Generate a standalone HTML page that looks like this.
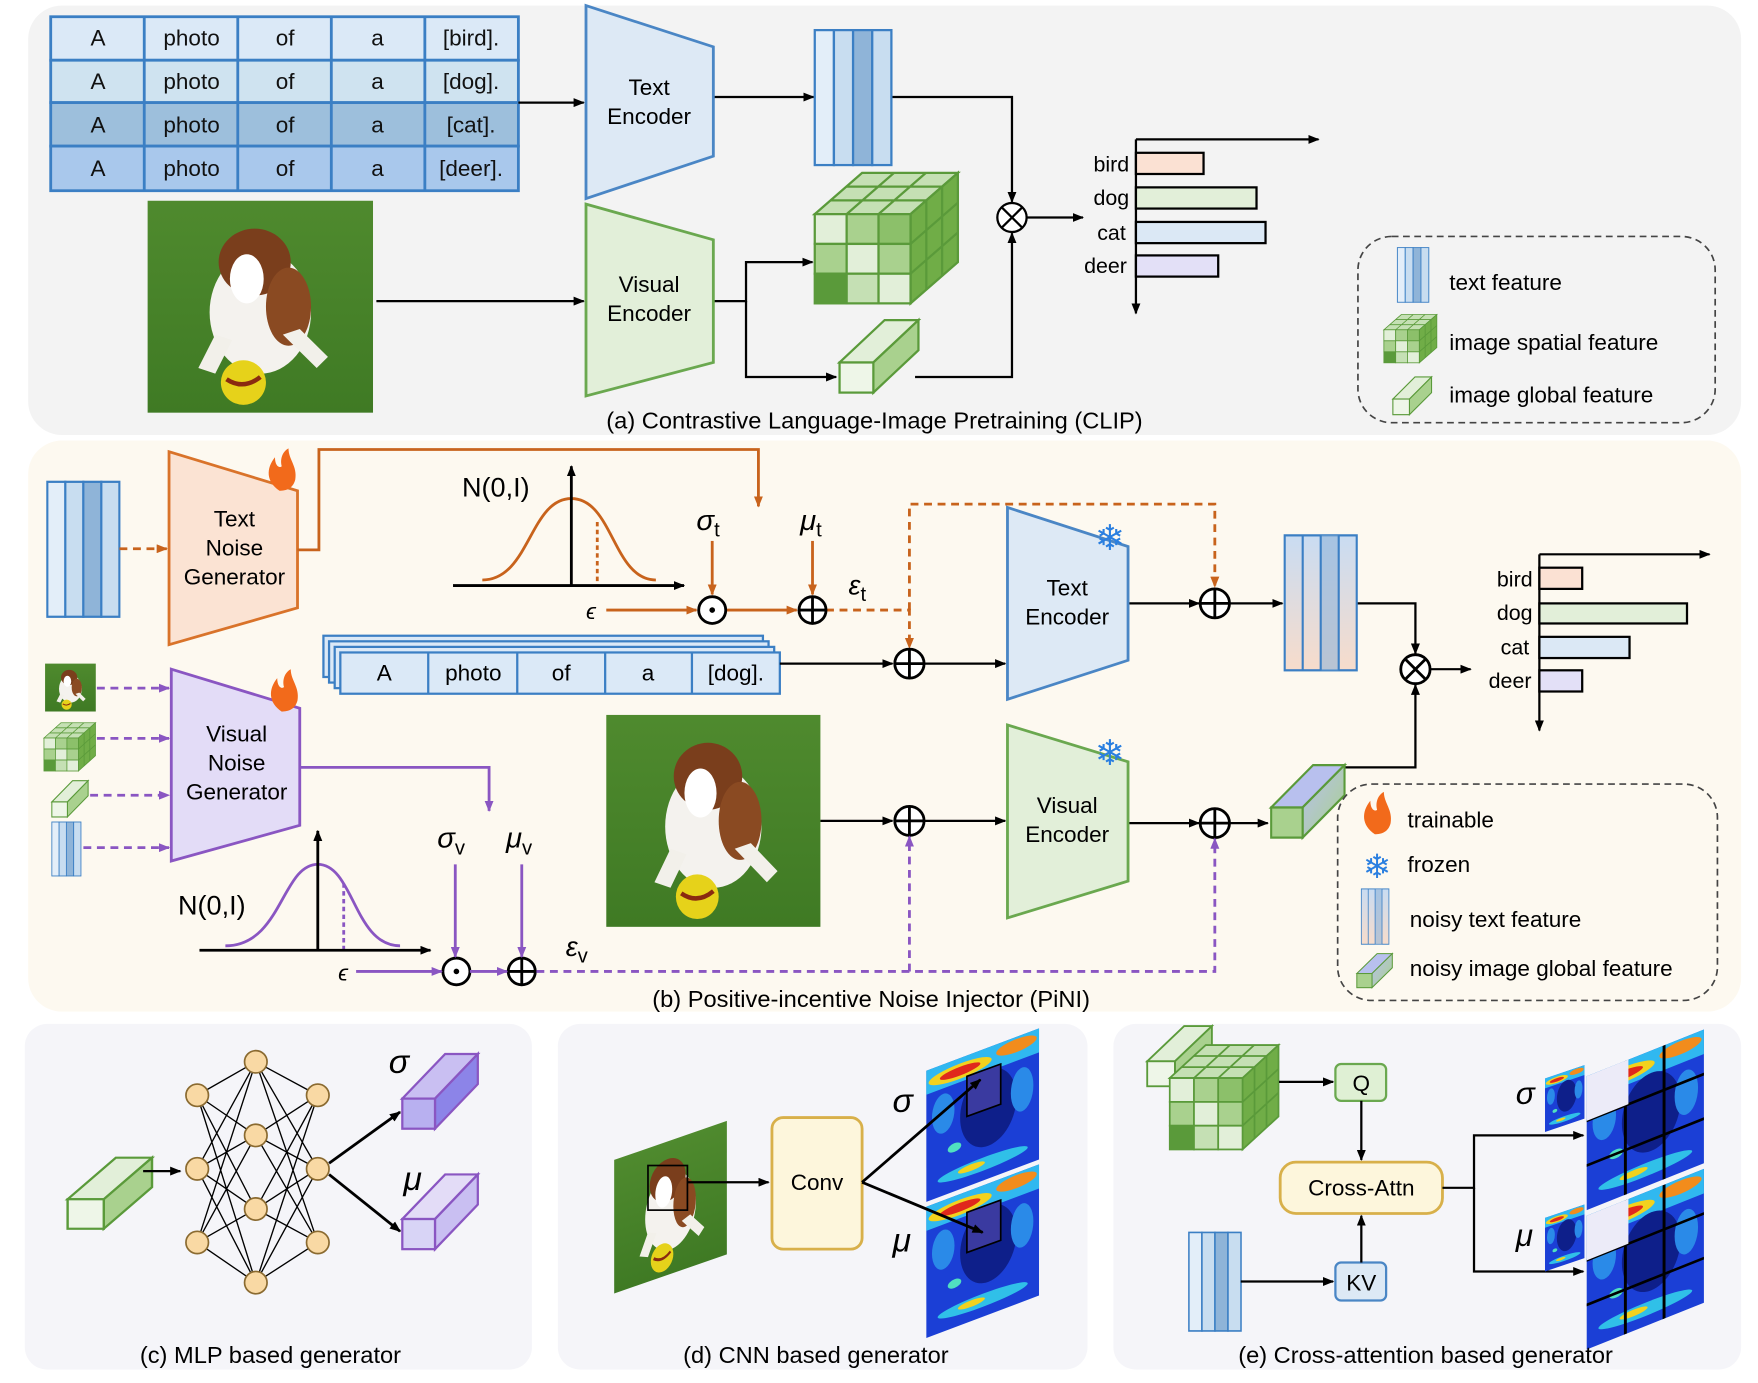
<!DOCTYPE html>
<html><head><meta charset="utf-8"><style>
html,body{margin:0;padding:0;background:#fff}
svg{display:block}
text{font-family:"Liberation Sans",sans-serif}
</style></head><body>
<svg width="1758" height="1383" viewBox="0 0 1560 1240" preserveAspectRatio="none" xmlns="http://www.w3.org/2000/svg">
<defs>
<marker id="ak" markerWidth="10" markerHeight="8" refX="9" refY="4" orient="auto" markerUnits="userSpaceOnUse"><path d="M0,0 L10,4 L0,8 z" fill="#000"/></marker>
<marker id="ao" markerWidth="10" markerHeight="8" refX="9" refY="4" orient="auto" markerUnits="userSpaceOnUse"><path d="M0,0 L10,4 L0,8 z" fill="#c8631c"/></marker>
<marker id="ap" markerWidth="10" markerHeight="8" refX="9" refY="4" orient="auto" markerUnits="userSpaceOnUse"><path d="M0,0 L10,4 L0,8 z" fill="#8a56c2"/></marker>
<linearGradient id="grass" x1="0" y1="0" x2="0" y2="1"><stop offset="0" stop-color="#4f8a2e"/><stop offset="1" stop-color="#3f7a24"/></linearGradient>
<linearGradient id="ntf" x1="0" y1="0" x2="0" y2="1"><stop offset="0" stop-color="#c9dcf2"/><stop offset="1" stop-color="#f7dccb"/></linearGradient>
<linearGradient id="ngf" x1="0" y1="0" x2="1" y2="1"><stop offset="0" stop-color="#b8c0ee"/><stop offset="1" stop-color="#a9d18e"/></linearGradient>
<g id="dog">
<rect x="0" y="0" width="200" height="190" fill="url(#grass)"/>
<ellipse cx="100" cy="100" rx="45" ry="55" fill="#f4f2ee"/>
<ellipse cx="95" cy="55" rx="32" ry="30" fill="#7a3e1c"/>
<ellipse cx="88" cy="70" rx="15" ry="22" fill="#fff"/>
<ellipse cx="125" cy="95" rx="20" ry="35" fill="#8a4a22"/>
<path d="M60 120 L45 150 L60 155 L75 125 Z M120 120 L150 150 L160 140 L135 115Z" fill="#f2f0ea"/>
<circle cx="85" cy="163" r="20" fill="#e6d21a"/>
<path d="M70 160 Q85 170 100 158" stroke="#8a2a10" stroke-width="4" fill="none"/>
</g>
<g id="tf">
<rect x="0" y="0" width="17" height="121" fill="#e3eef9" stroke="#3b7fc4" stroke-width="2"/>
<rect x="17" y="0" width="17" height="121" fill="#c8ddf0" stroke="#3b7fc4" stroke-width="2"/>
<rect x="34" y="0" width="17" height="121" fill="#8fb4d8" stroke="#3b7fc4" stroke-width="2"/>
<rect x="51" y="0" width="17" height="121" fill="#c8ddf0" stroke="#3b7fc4" stroke-width="2"/>
</g>
<g id="ntfg">
<rect x="0" y="0" width="68" height="121" fill="url(#ntf)" stroke="#3b7fc4" stroke-width="2"/>
<rect x="34" y="0" width="17" height="121" fill="#8fb4d8" opacity="0.6"/>
<path d="M17 0V121M34 0V121M51 0V121" stroke="#3b7fc4" stroke-width="2"/>
</g>
<g id="cube" stroke="#5a9a3a" stroke-width="2">
<polygon points="0,37 42,0 127,0 85,37" fill="#c5e0b4"/>
<polygon points="85,37 127,0 127,80 85,117" fill="#70ad47"/>
<rect x="0" y="37" width="28.3" height="26.7" fill="#e2efd9"/><rect x="28.3" y="37" width="28.3" height="26.7" fill="#a9d18e"/><rect x="56.6" y="37" width="28.4" height="26.7" fill="#8cc06a"/>
<rect x="0" y="63.7" width="28.3" height="26.7" fill="#a9d18e"/><rect x="28.3" y="63.7" width="28.3" height="26.7" fill="#e2efd9"/><rect x="56.6" y="63.7" width="28.4" height="26.7" fill="#a9d18e"/>
<rect x="0" y="90.4" width="28.3" height="26.6" fill="#5a9a3a"/><rect x="28.3" y="90.4" width="28.3" height="26.6" fill="#c5e0b4"/><rect x="56.6" y="90.4" width="28.4" height="26.6" fill="#e2efd9"/>
<path d="M14 24.7H99M28 12.3H113M28.3 37L70.3 0M56.6 37L98.6 0M99 24.7V104.7M113 12.3V92.3M85 63.7L127 26.7M85 90.4L127 53.4" fill="none"/>
</g>
<g id="gcube" stroke="#5a9a3a" stroke-width="2">
<polygon points="0,38 40,0 70,0 30,38" fill="#e2efd9"/>
<polygon points="30,38 70,0 70,27 30,65" fill="#a9d18e"/>
<rect x="0" y="38" width="30" height="27" fill="#eef6e8"/>
</g>
<g id="ncube" stroke="#5a9a3a" stroke-width="2">
<polygon points="0,38 40,0 70,0 30,38" fill="#b8c0ee"/>
<polygon points="30,38 70,0 70,27 30,65" fill="url(#ngf)"/>
<rect x="0" y="38" width="30" height="27" fill="#a9d18e"/>
</g>
<g id="pcube" stroke="#8a56c2" stroke-width="2">
<polygon points="0,40 38,0 67,0 29,40" fill="#c9bff2"/>
<polygon points="29,40 67,0 67,27 29,67" fill="#8c84e8"/>
<rect x="0" y="40" width="29" height="27" fill="#b8b0f0"/>
</g>
<g id="pcube2" stroke="#8a56c2" stroke-width="2">
<polygon points="0,40 38,0 67,0 29,40" fill="#e3dcf7"/>
<polygon points="29,40 67,0 67,27 29,67" fill="#c9bff2"/>
<rect x="0" y="40" width="29" height="27" fill="#d8d4f6"/>
</g>
<g id="heat">
<rect x="0" y="0" width="100" height="120" fill="#1b3fd6"/>
<rect x="0" y="0" width="100" height="22" fill="#30b8f0"/>
<ellipse cx="30" cy="12" rx="28" ry="7" fill="#f2d21e"/>
<ellipse cx="30" cy="12" rx="18" ry="4" fill="#e0281c"/>
<ellipse cx="80" cy="8" rx="18" ry="6" fill="#f28c1c"/>
<ellipse cx="55" cy="55" rx="25" ry="35" fill="#0e1f8a"/>
<ellipse cx="15" cy="45" rx="10" ry="18" fill="#2a8ae8"/>
<ellipse cx="85" cy="50" rx="10" ry="20" fill="#2a8ae8"/>
<ellipse cx="50" cy="105" rx="40" ry="6" fill="#30c0e8"/>
<ellipse cx="40" cy="104" rx="12" ry="3" fill="#f2d21e"/>
<ellipse cx="25" cy="80" rx="6" ry="4" fill="#50e0c0"/>
</g>
<path id="flame" d="M0 0 C-12 -8 -12 -20 -4 -30 C-4 -22 0 -20 2 -22 C0 -30 4 -36 8 -38 C8 -28 16 -22 14 -10 C12 -2 6 0 0 0Z" fill="#f26a1b"/>
</defs>

<!-- panel backgrounds -->
<rect x="25" y="5" width="1520" height="385" rx="30" fill="#f3f3f3"/>
<rect x="25" y="395" width="1520" height="512" rx="30" fill="#fdf9f0"/>
<rect x="22" y="918" width="450" height="310" rx="20" fill="#f5f5f9"/>
<rect x="495" y="918" width="470" height="310" rx="20" fill="#f5f5f9"/>
<rect x="988" y="918" width="557" height="310" rx="20" fill="#f5f5f9"/>

<!-- ===== Panel a ===== -->
<g stroke="#3b7fc4" stroke-width="2.5">
<rect x="45" y="15" width="415" height="39" fill="#dbe9f7"/>
<rect x="45" y="54" width="415" height="38" fill="#cfe3f0"/>
<rect x="45" y="92" width="415" height="39" fill="#9dbfdc"/>
<rect x="45" y="131" width="415" height="40" fill="#a9c8ec"/>
<path d="M128 15V171M211 15V171M294 15V171M377 15V171"/>
</g>
<g font-size="20" text-anchor="middle" fill="#111">
<text x="87" y="41">A</text><text x="170" y="41">photo</text><text x="253" y="41">of</text><text x="335" y="41">a</text><text x="418" y="41">[bird].</text>
<text x="87" y="80">A</text><text x="170" y="80">photo</text><text x="253" y="80">of</text><text x="335" y="80">a</text><text x="418" y="80">[dog].</text>
<text x="87" y="119">A</text><text x="170" y="119">photo</text><text x="253" y="119">of</text><text x="335" y="119">a</text><text x="418" y="119">[cat].</text>
<text x="87" y="158">A</text><text x="170" y="158">photo</text><text x="253" y="158">of</text><text x="335" y="158">a</text><text x="418" y="158">[deer].</text>
</g>
<g stroke="#000" stroke-width="2" fill="none">
<path d="M460 92H518" marker-end="url(#ak)"/>
<path d="M633 87H722" marker-end="url(#ak)"/>
<path d="M790 87H898V181" marker-end="url(#ak)"/>
<path d="M334 270H518" marker-end="url(#ak)"/>
<path d="M633 270H662V235H721" marker-end="url(#ak)"/>
<path d="M662 270V338H742" marker-end="url(#ak)"/>
<path d="M812 338H898V209" marker-end="url(#ak)"/>
<path d="M911 195H961" marker-end="url(#ak)"/>
<path d="M1008 125V281" marker-end="url(#ak)"/>
<path d="M1008 125H1170" marker-end="url(#ak)"/>
</g>
<polygon points="520,5 633,42 633,140 520,178" fill="#dde9f5" stroke="#4a86c5" stroke-width="2.5"/>
<text x="576" y="85" font-size="20" text-anchor="middle">Text</text>
<text x="576" y="111" font-size="20" text-anchor="middle">Encoder</text>
<polygon points="520,183 633,215 633,325 520,355" fill="#e2efd9" stroke="#6aa84f" stroke-width="2.5"/>
<text x="576" y="262" font-size="20" text-anchor="middle">Visual</text>
<text x="576" y="288" font-size="20" text-anchor="middle">Encoder</text>
<use href="#tf" x="723" y="27"/>
<use href="#cube" transform="translate(723,155)"/>
<use href="#gcube" transform="translate(745,287)"/>
<use href="#dog" transform="translate(131,180)"/>
<circle cx="898" cy="195" r="13" fill="#fff" stroke="#000" stroke-width="2"/>
<path d="M889 186L907 204M907 186L889 204" stroke="#000" stroke-width="2"/>
<g stroke="#000" stroke-width="2">
<rect x="1008" y="137" width="60" height="19" fill="#fbe1d3"/>
<rect x="1008" y="168" width="107" height="19" fill="#e2efd9"/>
<rect x="1008" y="199" width="115" height="19" fill="#dbe8f5"/>
<rect x="1008" y="229" width="73" height="19" fill="#e3e0f7"/>
</g>
<g font-size="19" text-anchor="end"><text x="1002" y="154">bird</text><text x="1002" y="184">dog</text><text x="999" y="215">cat</text><text x="1000" y="245">deer</text></g>
<rect x="1205" y="212" width="317" height="167" rx="30" fill="none" stroke="#444" stroke-width="1.5" stroke-dasharray="6,4"/>
<use href="#tf" transform="translate(1240,222) scale(0.41,0.405)"/>
<use href="#cube" transform="translate(1228,282) scale(0.37,0.37)"/>
<use href="#gcube" transform="translate(1236,338) scale(0.49,0.52)"/>
<g font-size="20"><text x="1286" y="260">text feature</text><text x="1286" y="314">image spatial feature</text><text x="1286" y="361">image global feature</text></g>
<text x="776" y="384" font-size="21" text-anchor="middle">(a) Contrastive Language-Image Pretraining (CLIP)</text>

<!-- ===== Panel b ===== -->
<use href="#tf" transform="translate(42,432) scale(0.94,1)"/>
<path d="M106 492H148" stroke="#c8631c" stroke-width="2.5" stroke-dasharray="7,5" marker-end="url(#ao)"/>
<polygon points="150,405 264,440 264,545 150,578" fill="#fbe3d3" stroke="#d9732a" stroke-width="2.5"/>
<g font-size="20" text-anchor="middle"><text x="208" y="472">Text</text><text x="208" y="498">Noise</text><text x="208" y="524">Generator</text></g>
<use href="#flame" transform="translate(248,440)"/>
<g stroke="#c8631c" stroke-width="2.5" fill="none">
<path d="M264 493H283V403H673V454" marker-end="url(#ao)"/>
<path d="M428 520 C470 520 470 447 507 447 C544 447 544 520 582 520"/>
<path d="M530 468V525" stroke-dasharray="4,3"/>
<path d="M538 547H618" marker-end="url(#ao)"/>
<path d="M632 485V533" marker-end="url(#ao)"/>
<path d="M644 547H707" marker-end="url(#ao)"/>
<path d="M721 485V533" marker-end="url(#ao)"/>
<path d="M733 547H807V581" stroke-dasharray="7,5" marker-end="url(#ao)"/>
<path d="M807 547V452H1078V526" stroke-dasharray="7,5" marker-end="url(#ao)"/>
</g>
<g stroke="#000" stroke-width="2.5" fill="none">
<path d="M402 525H607" marker-end="url(#ak)"/>
<path d="M507 525V418" marker-end="url(#ak)"/>
</g>
<text x="410" y="445" font-size="24">N(0,I)</text>
<text x="520" y="555" font-size="20" font-style="italic" font-family="Liberation Serif,serif">ϵ</text>
<text x="618" y="475" font-size="26" font-style="italic" font-family="Liberation Serif,serif">σ<tspan font-size="18" font-style="normal" dy="6">t</tspan></text>
<text x="710" y="475" font-size="26" font-style="italic" font-family="Liberation Serif,serif">μ<tspan font-size="18" font-style="normal" dy="6">t</tspan></text>
<text x="753" y="533" font-size="24" font-style="italic" font-family="Liberation Serif,serif">ε<tspan font-size="18" font-style="normal" dy="6">t</tspan></text>
<!-- prompt stack -->
<g stroke="#3b7fc4" stroke-width="2" fill="#dbe9f7">
<rect x="287" y="570" width="390" height="37"/>
<rect x="292" y="575" width="390" height="37"/>
<rect x="297" y="580" width="390" height="37"/>
<rect x="302" y="585" width="390" height="37"/>
<path d="M380 585V622M459 585V622M537 585V622M614 585V622" fill="none"/>
</g>
<g font-size="20" text-anchor="middle"><text x="341" y="610">A</text><text x="420" y="610">photo</text><text x="498" y="610">of</text><text x="575" y="610">a</text><text x="653" y="610">[dog].</text></g>
<g stroke="#000" stroke-width="2" fill="none">
<path d="M692 595H792" marker-end="url(#ak)"/>
<path d="M820 595H892" marker-end="url(#ak)"/>
<path d="M1001 541H1064" marker-end="url(#ak)"/>
<path d="M1091 541H1138" marker-end="url(#ak)"/>
<path d="M1204 541H1256V586" marker-end="url(#ak)"/>
<path d="M1269 600H1305" marker-end="url(#ak)"/>
<path d="M1366 497V655" marker-end="url(#ak)"/>
<path d="M1366 497H1517" marker-end="url(#ak)"/>
<path d="M728 736H792" marker-end="url(#ak)"/>
<path d="M820 736H892" marker-end="url(#ak)"/>
<path d="M1001 738H1064" marker-end="url(#ak)"/>
<path d="M1091 738H1125" marker-end="url(#ak)"/>
<path d="M1193 688H1256V614" marker-end="url(#ak)"/>
</g>
<polygon points="894,455 1001,490 1001,592 894,627" fill="#dde9f5" stroke="#4a86c5" stroke-width="2.5"/>
<g font-size="20" text-anchor="middle"><text x="947" y="534">Text</text><text x="947" y="560">Encoder</text></g>
<text x="985" y="493" font-size="32" fill="#2a7fe0" text-anchor="middle" font-family="DejaVu Sans,sans-serif">❄</text>
<polygon points="894,650 1001,683 1001,790 894,823" fill="#e2efd9" stroke="#6aa84f" stroke-width="2.5"/>
<g font-size="20" text-anchor="middle"><text x="947" y="729">Visual</text><text x="947" y="755">Encoder</text></g>
<text x="985" y="686" font-size="32" fill="#2a7fe0" text-anchor="middle" font-family="DejaVu Sans,sans-serif">❄</text>
<use href="#ntfg" transform="translate(1140,480) scale(0.94,1)"/>
<use href="#ncube" transform="translate(1128,686) scale(0.93,1)"/>
<use href="#dog" transform="translate(538,641) scale(0.95,1)"/>
<!-- circle operators b -->
<g fill="#fff" stroke="#000" stroke-width="2.5">
<circle cx="632" cy="547" r="12"/><circle cx="721" cy="547" r="12"/>
<circle cx="807" cy="595" r="13"/><circle cx="1078" cy="541" r="13"/>
<circle cx="807" cy="736" r="13"/><circle cx="1078" cy="738" r="13"/>
<circle cx="1256" cy="600" r="13"/>
<circle cx="405" cy="871" r="12"/><circle cx="463" cy="871" r="12"/>
</g>
<g stroke="#000" stroke-width="2.5">
<path d="M709 547H733M721 535V559M794 595H820M807 582V608M1065 541H1091M1078 528V554M794 736H820M807 723V749M1065 738H1091M1078 725V751M451 871H475M463 859V883"/>
<path d="M1247 591L1265 609M1265 591L1247 609"/>
</g>
<circle cx="632" cy="547" r="2.5"/><circle cx="405" cy="871" r="2.5"/>
<g stroke="#000" stroke-width="2">
<rect x="1366" y="509" width="38" height="19" fill="#fbe1d3"/>
<rect x="1366" y="541" width="131" height="18" fill="#e2efd9"/>
<rect x="1366" y="571" width="80" height="19" fill="#dbe8f5"/>
<rect x="1366" y="601" width="38" height="19" fill="#e3e0f7"/>
</g>
<g font-size="19" text-anchor="end"><text x="1360" y="526">bird</text><text x="1360" y="556">dog</text><text x="1357" y="587">cat</text><text x="1359" y="617">deer</text></g>
<!-- visual noise generator -->
<polygon points="152,600 266,635 266,740 152,772" fill="#e3dcf7" stroke="#8a56c2" stroke-width="2.5"/>
<g font-size="20" text-anchor="middle"><text x="210" y="665">Visual</text><text x="210" y="691">Noise</text><text x="210" y="717">Generator</text></g>
<use href="#flame" transform="translate(250,638)"/>
<use href="#dog" transform="translate(40,595) scale(0.225,0.226)"/>
<use href="#cube" transform="translate(39,648) scale(0.36,0.37)"/>
<use href="#gcube" transform="translate(46,700) scale(0.46,0.5)"/>
<use href="#tf" transform="translate(46,737) scale(0.38,0.4)"/>
<g stroke="#8a56c2" stroke-width="2.5" fill="none">
<path d="M86 617H150" stroke-dasharray="7,5" marker-end="url(#ap)"/>
<path d="M86 662H150" stroke-dasharray="7,5" marker-end="url(#ap)"/>
<path d="M80 713H150" stroke-dasharray="7,5" marker-end="url(#ap)"/>
<path d="M74 760H150" stroke-dasharray="7,5" marker-end="url(#ap)"/>
<path d="M266 688H434V727" marker-end="url(#ap)"/>
<path d="M200 848 C250 848 250 775 282 775 C314 775 314 848 355 848"/>
<path d="M305 792V852" stroke-dasharray="4,3"/>
<path d="M316 871H392" marker-end="url(#ap)"/>
<path d="M404 775V858" marker-end="url(#ap)"/>
<path d="M417 871H450" marker-end="url(#ap)"/>
<path d="M463 775V858" marker-end="url(#ap)"/>
<path d="M476 871H1078V752" stroke-dasharray="7,5" marker-end="url(#ap)"/>
<path d="M807 871V750" stroke-dasharray="7,5" marker-end="url(#ap)"/>
</g>
<g stroke="#000" stroke-width="2.5" fill="none">
<path d="M177 852H382" marker-end="url(#ak)"/>
<path d="M282 852V745" marker-end="url(#ak)"/>
</g>
<text x="158" y="820" font-size="24">N(0,I)</text>
<text x="300" y="879" font-size="20" font-style="italic" font-family="Liberation Serif,serif">ϵ</text>
<text x="388" y="760" font-size="26" font-style="italic" font-family="Liberation Serif,serif">σ<tspan font-size="18" font-style="normal" dy="6">v</tspan></text>
<text x="449" y="760" font-size="26" font-style="italic" font-family="Liberation Serif,serif">μ<tspan font-size="18" font-style="normal" dy="6">v</tspan></text>
<text x="502" y="857" font-size="24" font-style="italic" font-family="Liberation Serif,serif">ε<tspan font-size="18" font-style="normal" dy="6">v</tspan></text>
<!-- legend b -->
<rect x="1187" y="703" width="337" height="194" rx="30" fill="none" stroke="#444" stroke-width="1.5" stroke-dasharray="6,4"/>
<use href="#flame" transform="translate(1220,748)"/>
<text x="1222" y="787" font-size="30" fill="#2a7fe0" text-anchor="middle" font-family="DejaVu Sans,sans-serif">❄</text>
<use href="#ntfg" transform="translate(1208,797) scale(0.36,0.41)"/>
<use href="#ncube" transform="translate(1204,855) scale(0.45,0.47)"/>
<g font-size="20"><text x="1249" y="742">trainable</text><text x="1249" y="782">frozen</text><text x="1251" y="831">noisy text feature</text><text x="1251" y="875">noisy image global feature</text></g>
<text x="773" y="903" font-size="21" text-anchor="middle">(b) Positive-incentive Noise Injector (PiNI)</text>

<!-- ===== Panel c ===== -->
<use href="#gcube" transform="translate(60,1038) scale(1.07,0.98)"/>
<path d="M127 1050H160" stroke="#000" stroke-width="2" marker-end="url(#ak)"/>
<g stroke="#000" stroke-width="1.2">
<path d="M175 982L227 952M175 982L227 1018M175 982L227 1084M175 982L227 1150M175 1048L227 952M175 1048L227 1018M175 1048L227 1084M175 1048L227 1150M175 1114L227 952M175 1114L227 1018M175 1114L227 1084M175 1114L227 1150"/>
<path d="M282 982L227 952M282 982L227 1018M282 982L227 1084M282 982L227 1150M282 1048L227 952M282 1048L227 1018M282 1048L227 1084M282 1048L227 1150M282 1114L227 952M282 1114L227 1018M282 1114L227 1084M282 1114L227 1150"/>
</g>
<g fill="#f9d9a4" stroke="#8a6a30" stroke-width="1.5">
<circle cx="175" cy="982" r="10"/><circle cx="175" cy="1048" r="10"/><circle cx="175" cy="1114" r="10"/>
<circle cx="227" cy="952" r="10"/><circle cx="227" cy="1018" r="10"/><circle cx="227" cy="1084" r="10"/><circle cx="227" cy="1150" r="10"/>
<circle cx="282" cy="982" r="10"/><circle cx="282" cy="1048" r="10"/><circle cx="282" cy="1114" r="10"/>
</g>
<g stroke="#000" stroke-width="2.5" fill="none">
<path d="M292 1043L355 997" marker-end="url(#ak)"/>
<path d="M292 1053L355 1104" marker-end="url(#ak)"/>
</g>
<use href="#pcube" transform="translate(357,945)"/>
<use href="#pcube2" transform="translate(357,1053)"/>
<text x="345" y="962" font-size="30" font-style="italic" font-family="Liberation Serif,serif">σ</text>
<text x="358" y="1067" font-size="30" font-style="italic" font-family="Liberation Serif,serif">μ</text>
<text x="240" y="1222" font-size="21" text-anchor="middle">(c) MLP based generator</text>

<!-- ===== Panel d ===== -->
<g transform="matrix(0.5,-0.175,0,0.63,545,1040)"><use href="#dog"/></g>
<rect x="575" y="1045" width="35" height="40" fill="none" stroke="#000" stroke-width="1.5"/>
<path d="M610 1060H682" stroke="#000" stroke-width="2" marker-end="url(#ak)"/>
<rect x="685" y="1002" width="80" height="118" rx="10" fill="#fdf6dc" stroke="#d8b04a" stroke-width="2.5"/>
<text x="725" y="1067" font-size="20" text-anchor="middle">Conv</text>
<g transform="matrix(1,-0.38,0,0.98,822,960)"><use href="#heat"/></g>
<g transform="matrix(1,-0.38,0,0.98,822,1082)"><use href="#heat"/></g>
<polygon points="858,965 888,954 888,990 858,1001" fill="#3a3aa0" stroke="#000" stroke-width="1.5"/>
<polygon points="858,1087 888,1076 888,1112 858,1123" fill="#3a3aa0" stroke="#000" stroke-width="1.5"/>
<g stroke="#000" stroke-width="2.5" fill="none">
<path d="M765 1060L870 968" marker-end="url(#ak)"/>
<path d="M765 1060L872 1105" marker-end="url(#ak)"/>
</g>
<text x="792" y="997" font-size="30" font-style="italic" font-family="Liberation Serif,serif">σ</text>
<text x="792" y="1122" font-size="30" font-style="italic" font-family="Liberation Serif,serif">μ</text>
<text x="724" y="1222" font-size="21" text-anchor="middle">(d) CNN based generator</text>

<!-- ===== Panel e ===== -->
<use href="#gcube" transform="translate(1018,920) scale(0.82,0.83)"/>
<use href="#cube" transform="translate(1038,937) scale(0.76,0.8)"/>
<path d="M1135 970H1183" stroke="#000" stroke-width="2" marker-end="url(#ak)"/>
<rect x="1185" y="954" width="45" height="33" rx="5" fill="#dff0d4" stroke="#6aa84f" stroke-width="2"/>
<text x="1208" y="978" font-size="20" text-anchor="middle">Q</text>
<path d="M1208 987V1040" stroke="#000" stroke-width="2" marker-end="url(#ak)"/>
<rect x="1136" y="1042" width="144" height="46" rx="14" fill="#fdf6dc" stroke="#d8b04a" stroke-width="2.5"/>
<text x="1208" y="1072" font-size="20" text-anchor="middle">Cross-Attn</text>
<rect x="1185" y="1132" width="45" height="34" rx="5" fill="#dde9f5" stroke="#4a86c5" stroke-width="2"/>
<text x="1208" y="1157" font-size="20" text-anchor="middle">KV</text>
<path d="M1208 1132V1090" stroke="#000" stroke-width="2" marker-end="url(#ak)"/>
<use href="#tf" transform="translate(1055,1105) scale(0.68,0.73)"/>
<path d="M1101 1149H1183" stroke="#000" stroke-width="2" marker-end="url(#ak)"/>
<g stroke="#000" stroke-width="2" fill="none">
<path d="M1280 1065H1308V1018H1405" marker-end="url(#ak)"/>
<path d="M1308 1065V1140H1405" marker-end="url(#ak)"/>
</g>
<g transform="matrix(0.35,-0.12,0,0.4,1371,967)"><use href="#heat"/></g>
<g transform="matrix(0.35,-0.12,0,0.4,1371,1092)"><use href="#heat"/></g>
<rect x="1371" y="955" width="35" height="50" fill="none"/>
<text x="1345" y="990" font-size="28" font-style="italic" font-family="Liberation Serif,serif">σ</text>
<text x="1345" y="1117" font-size="28" font-style="italic" font-family="Liberation Serif,serif">μ</text>
<g transform="matrix(1.04,-0.42,0,1.0,1408,965)"><use href="#heat"/>
<path d="M33 0V120M66 0V120M0 40H100M0 80H100" stroke="#000" stroke-width="2.5"/></g>
<g transform="matrix(1.04,-0.42,0,1.0,1408,1090)"><use href="#heat"/>
<path d="M33 0V120M66 0V120M0 40H100M0 80H100" stroke="#000" stroke-width="2.5"/></g>
<polygon points="1408,965 1445,950 1445,990 1408,1005" fill="#ecebf8"/>
<polygon points="1408,1090 1445,1075 1445,1115 1408,1130" fill="#ecebf8"/>
<text x="1265" y="1222" font-size="21" text-anchor="middle">(e) Cross-attention based generator</text>
</svg>
</body></html>
